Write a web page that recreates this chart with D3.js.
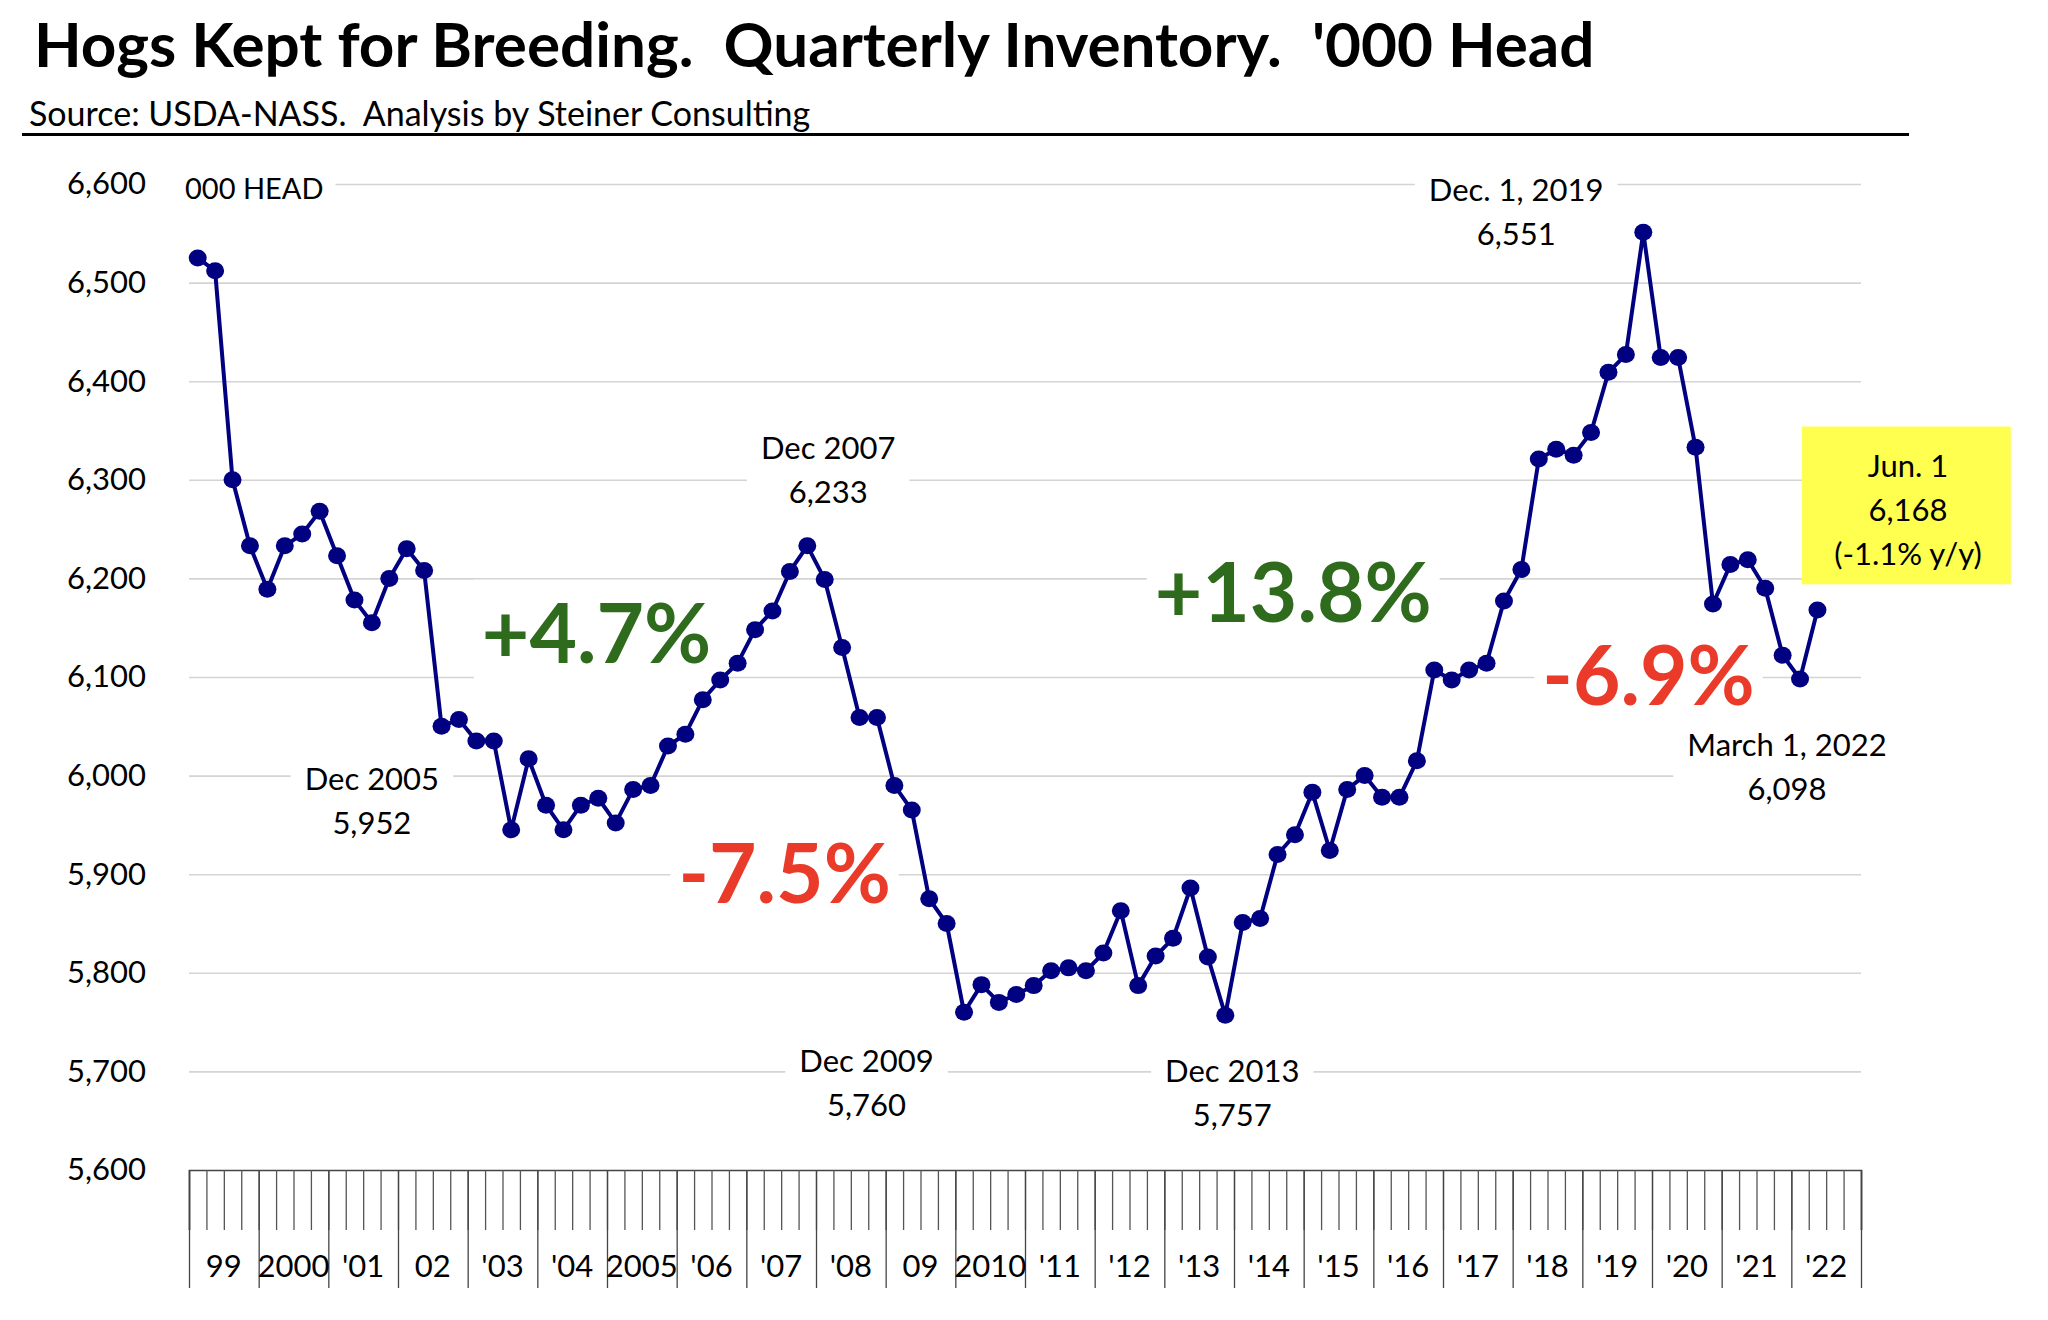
<!DOCTYPE html>
<html lang="en">
    <head>
        <meta charset="UTF-8" />
        <title>Hogs Kept for Breeding</title>
        <style>
            html,
            body {
                margin: 0;
                background: #fff;
            }
            svg text {
                font-family: Lato, "Open Sans", sans-serif;
                white-space: pre;
            }
            .grid line {
                stroke: #d4d4d4;
                stroke-width: 1.6px;
            }
            .tick text {
                fill: #000;
            }
        </style>
    </head>
    <body>
        <div id="chart"></div>
        <script src="https://cdn.jsdelivr.net/npm/d3@7"></script>
        <script>
            const width = 2048;
            const height = 1320;

            // year labels as printed under the axis
            const yearLabels = ["99", "2000", "'01", "02", "'03", "'04", "2005", "'06", "'07", "'08", "09", "2010",
                "'11", "'12", "'13", "'14", "'15", "'16", "'17", "'18", "'19", "'20", "'21", "'22"];
            const quarters = ["Mar", "Jun", "Sep", "Dec"];
            const yTicks = [5600, 5700, 5800, 5900, 6000, 6100, 6200, 6300, 6400, 6500, 6600];

            // breeding inventory, '000 head, Mar 1999 .. Jun 2022
            const inventory = [
                6525, 6512, 6300, 6233, 6189, 6233, 6245, 6268, 6223, 6178,
                6155, 6200, 6230, 6208, 6050, 6057, 6035, 6035, 5945, 6017,
                5970, 5945, 5970, 5977, 5952, 5986, 5990, 6030, 6042, 6077,
                6097, 6114, 6148, 6167, 6207, 6233, 6199, 6130, 6059, 6059,
                5990, 5965, 5875, 5850, 5760, 5788, 5770, 5778, 5787, 5802,
                5805, 5802, 5820, 5863, 5787, 5817, 5835, 5886, 5816, 5757,
                5851, 5855, 5920, 5940, 5983, 5924, 5986, 6000, 5978, 5978,
                6015, 6107, 6097, 6107, 6114, 6177, 6209, 6321, 6331, 6325,
                6348, 6409, 6427, 6551, 6424, 6424, 6333, 6174, 6214, 6219,
                6190, 6122, 6098, 6168
            ];

            // callouts, placed in data space: at = [quarter slot, value]
            const callouts = [
                { lines: ["Dec 2007", "6,233"], at: [36.7, 6333] },
                { lines: ["Dec 2005", "5,952"], at: [10.5, 5998] },
                { lines: ["Dec 2009", "5,760"], at: [38.9, 5712] },
                { lines: ["Dec 2013", "5,757"], at: [59.9, 5701] },
                { lines: ["Dec. 1, 2019", "6,551"], at: [76.2, 6595] },
                { lines: ["March 1, 2022", "6,098"], at: [91.75, 6032] }
            ];
            const changes = [
                { text: "+4.7%", at: [23.4, 6147], color: "#2f6b1c" },
                { text: "-7.5%", at: [34.2, 5903], color: "#ea3a2a" },
                { text: "+13.8%", at: [63.4, 6188], color: "#2f6b1c" },
                { text: "-6.9%", at: [83.8, 6104], color: "#ea3a2a" }
            ];
            const latest = ["Jun. 1", "6,168", "(-1.1% y/y)"];

            const slots = [];
            yearLabels.forEach((yl, yi) => quarters.forEach(q => slots.push(yi + "-" + q)));

            const margin = { left: 189, right: 2048 - 1861, top: 184, bottom: 1320 - 1170 };

            const svg = d3
                .select("#chart")
                .append("svg")
                .attr("width", width)
                .attr("height", height);

            const x = d3.scaleBand().domain(slots).range([margin.left, width - margin.right]);
            const xs = d3.scaleLinear().domain([0, slots.length]).range([margin.left, width - margin.right]);
            const y = d3.scaleLinear().domain([5600, 6600]).range([height - margin.bottom, margin.top]);

            // title block
            svg.append("text")
                .attr("x", 34)
                .attr("y", 67)
                .attr("font-size", 62)
                .attr("font-weight", 700)
                .text("Hogs Kept for Breeding.  Quarterly Inventory.  '000 Head");
            svg.append("text")
                .attr("x", 29)
                .attr("y", 126)
                .attr("font-size", 34)
                .text("Source: USDA-NASS.  Analysis by Steiner Consulting");
            svg.append("line")
                .attr("x1", 22)
                .attr("x2", 1909)
                .attr("y1", 134.5)
                .attr("y2", 134.5)
                .attr("stroke", "#000")
                .attr("stroke-width", 3);

            // gridlines
            svg.append("g")
                .attr("class", "grid")
                .attr("transform", `translate(${margin.left},0)`)
                .call(d3.axisLeft(y).tickValues(yTicks.slice(1)).tickSize(-(width - margin.left - margin.right)).tickFormat(""))
                .call(g => g.select(".domain").remove());

            // y labels
            svg.append("g")
                .attr("transform", `translate(146,0)`)
                .call(d3.axisLeft(y).tickValues(yTicks).tickSize(0).tickPadding(0).tickFormat(d3.format(",")))
                .call(g => g.select(".domain").remove())
                .call(g => g.selectAll("text").attr("font-size", 31).attr("font-family", "Lato"));

            // x axis: quarter ticks short, year ticks long
            const xAxisY = y(5600);
            svg.append("g")
                .attr("transform", `translate(0,${xAxisY})`)
                .call(d3.axisBottom(xs).tickValues(d3.range(0, slots.length + 1)).tickSize(60).tickFormat(""))
                .call(g => g.selectAll("line").attr("stroke", "#555").attr("stroke-width", 1.3))
                .call(g => g.select(".domain").attr("stroke", "#444").attr("stroke-width", 1.6));
            svg.append("g")
                .attr("transform", `translate(0,${xAxisY})`)
                .call(d3.axisBottom(xs).tickValues(d3.range(0, slots.length + 1, 4)).tickSize(118).tickFormat(""))
                .call(g => g.selectAll("line").attr("stroke", "#444").attr("stroke-width", 1.3))
                .call(g => g.select(".domain").remove());
            svg.append("g")
                .selectAll("text")
                .data(yearLabels)
                .join("text")
                .attr("x", (d, i) => xs(i * 4 + 2))
                .attr("y", xAxisY + 95)
                .attr("text-anchor", "middle")
                .attr("dominant-baseline", "central")
                .attr("font-size", 31)
                .text(d => d);

            // text with a white box behind it, like the text boxes in the original
            function boxed(lines, cx, cy, opts) {
                const g = svg.append("g");
                const rect = g.append("rect").attr("fill", opts.fill || "#fff");
                const t = g.append("text")
                    .attr("text-anchor", opts.anchor || "middle")
                    .attr("font-size", opts.size || 31)
                    .attr("font-weight", opts.weight || 400)
                    .attr("fill", opts.color || "#000");
                const lh = opts.lineHeight || 44;
                lines.forEach((l, i) => {
                    t.append("tspan")
                        .attr("x", cx)
                        .attr("y", cy + i * lh)
                        .attr("dominant-baseline", "central")
                        .text(l);
                });
                const b = t.node().getBBox();
                const pad = opts.pad || 10;
                rect.attr("x", b.x - pad).attr("y", b.y - 2).attr("width", b.width + pad * 2).attr("height", b.height + 4);
                return g;
            }

            boxed(["000 HEAD"], xs(0) - 4, y(6596), { anchor: "start", size: 29, pad: 12 });

            callouts.forEach(c => boxed(c.lines, xs(c.at[0]), y(c.at[1]), { pad: 14 }));

            changes.forEach(c =>
                boxed([c.text], xs(c.at[0]), y(c.at[1]), { size: 82, weight: 700, color: c.color, pad: 8 })
            );

            // latest-quarter box
            svg.append("rect")
                .attr("x", xs(92.6))
                .attr("y", y(6354))
                .attr("width", xs(104.6) - xs(92.6))
                .attr("height", y(6194) - y(6354))
                .attr("fill", "#ffff4f");
            const lt = svg.append("text").attr("text-anchor", "middle").attr("font-size", 31);
            latest.forEach((l, i) => {
                lt.append("tspan")
                    .attr("x", xs(98.7))
                    .attr("y", y(6315) + i * 44)
                    .attr("dominant-baseline", "central")
                    .text(l);
            });

            // series
            const cx = (d, i) => x(slots[i]) + x.bandwidth() / 2;
            const line = d3.line().x(cx).y(d => y(d));

            svg.append("path")
                .datum(inventory)
                .attr("fill", "none")
                .attr("stroke", "#000080")
                .attr("stroke-width", 4)
                .attr("stroke-linejoin", "round")
                .attr("d", line);

            svg.append("g")
                .selectAll("ellipse")
                .data(inventory)
                .join("ellipse")
                .attr("cx", cx)
                .attr("cy", d => y(d))
                .attr("rx", 9)
                .attr("ry", 8.5)
                .attr("fill", "#000080");
        </script>
    </body>
</html>
